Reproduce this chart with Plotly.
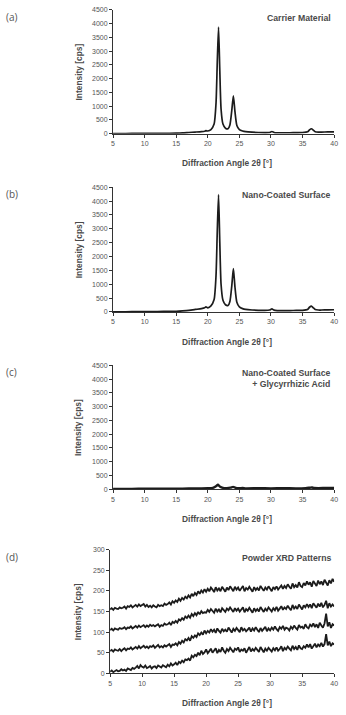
import plotly.graph_objects as go

# ---------------- data ----------------
# Panel (a) Carrier Material
a_x = [5, 7, 9, 11, 13, 15, 16, 17, 18, 19, 19.5, 19.7, 20, 20.5, 21.0, 21.3, 21.5, 21.7, 21.9, 22.1,
       22.4, 22.8, 23.2, 23.5, 23.8, 24.05, 24.3, 24.6, 25.0, 25.5, 26, 27, 28, 29, 29.8, 30.15, 30.5,
       31, 32, 33, 34, 35, 35.8, 36.1, 36.4, 36.7, 37.0, 37.5, 38, 39, 40]
a_y = [5, 8, 10, 12, 15, 20, 28, 45, 60, 75, 90, 110, 100, 150, 350, 1100, 2600, 3880, 2300, 900,
       350, 200, 180, 320, 850, 1380, 800, 300, 150, 100, 75, 55, 45, 40, 45, 80, 45,
       35, 35, 35, 40, 45, 70, 140, 180, 130, 70, 55, 60, 65, 70]

# Panel (b) Nano-Coated Surface
b_x = a_x
b_y = [5, 8, 10, 13, 18, 25, 40, 60, 90, 120, 150, 180, 150, 220, 450, 1300, 2900, 4230, 2500, 1000,
       420, 260, 230, 380, 950, 1560, 900, 350, 180, 120, 90, 70, 60, 55, 70, 110, 65,
       50, 50, 50, 55, 60, 90, 170, 210, 150, 90, 70, 70, 75, 80]

# Panel (c) Nano-Coated Surface + Glycyrrhizic Acid
c_x = [5, 7, 9, 11, 13, 15, 17, 19, 20, 20.8, 21.3, 21.6, 21.9, 22.4, 23, 23.6, 24.0, 24.4, 25, 25.5,
       26, 28, 30, 32, 34, 35.5, 36.2, 36.5, 36.8, 37.5, 38.5, 40]
c_y = [10, 12, 14, 15, 18, 20, 25, 30, 35, 50, 110, 160, 100, 50, 40, 55, 85, 50, 35, 45,
       30, 35, 30, 35, 30, 40, 55, 60, 45, 40, 45, 50]

# Panel (d) Powder XRD patterns, 0.25 deg steps from 5 to 40
d_start, d_step = 5.0, 0.25
d_curve1 = [4, 7, 3, 6, 8, 5, 6, 10, 7, 9, 6, 12, 10, 8, 13, 11, 14, 18, 12, 20,
            16, 14, 19, 13, 15, 18, 12, 16, 17, 13, 19, 16, 14, 20, 18, 15, 21, 17, 24, 19,
            22, 26, 20, 28, 25, 31, 27, 34, 32, 36, 31, 43, 39, 45, 42, 50, 44, 55, 47, 51,
            58, 49, 54, 60, 50, 56, 61, 49, 57, 52, 63, 55, 50, 59, 54, 62, 56, 51, 60, 57,
            63, 52, 58, 55, 61, 50, 57, 64, 53, 59, 55, 62, 57, 52, 64, 56, 51, 60, 55, 62,
            58, 53, 61, 56, 63, 55, 59, 66, 54, 62, 58, 65, 60, 56, 67, 59, 64, 57, 68, 61,
            59, 66, 62, 70, 63, 71, 60, 68, 72, 63, 70, 66, 74, 65, 71, 95, 68, 77, 66, 73,
            70]
d_curve2 = [54, 57, 53, 58, 56, 55, 59, 54, 58, 61, 56, 60, 59, 63, 58, 62, 64, 60, 66, 61,
            63, 67, 62, 65, 61, 66, 64, 68, 62, 65, 69, 63, 66, 63, 68, 65, 67, 71, 64, 70,
            69, 73, 68, 76, 72, 79, 75, 83, 80, 86, 79, 90, 86, 92, 88, 97, 93, 99, 94, 104,
            97, 103, 99, 107, 101, 106, 98, 109, 103, 99, 108, 102, 106, 101, 111, 104, 99, 108, 103, 110,
            105, 100, 112, 104, 108, 102, 106, 111, 101, 109, 104, 112, 106, 100, 110, 103, 108, 113, 102, 109,
            104, 111, 106, 114, 107, 103, 112, 108, 115, 106, 111, 109, 104, 113, 108, 116, 110, 106, 117, 111,
            113, 108, 119, 112, 109, 118, 114, 121, 112, 119, 110, 123, 116, 111, 121, 145, 114, 124, 110, 119,
            116]
d_curve3 = [105, 108, 104, 109, 107, 106, 110, 108, 109, 112, 107, 111, 110, 114, 109, 113, 115, 111, 116, 112,
            114, 117, 112, 116, 113, 118, 115, 117, 114, 116, 119, 113, 117, 115, 121, 118, 119, 123, 117, 125,
            122, 127, 123, 131, 128, 134, 130, 138, 134, 140, 135, 144, 139, 146, 141, 149, 143, 151, 146, 148,
            147, 154, 149, 156, 151, 147, 157, 150, 155, 148, 158, 152, 149, 157, 153, 160, 154, 149, 158, 152,
            157, 150, 155, 160, 148, 156, 152, 159, 153, 147, 158, 151, 156, 150, 161, 154, 149, 157, 152, 160,
            155, 150, 158, 153, 161, 152, 157, 163, 154, 160, 156, 164, 158, 153, 166, 157, 162, 156, 167, 159,
            155, 165, 160, 168, 161, 167, 158, 170, 164, 159, 169, 162, 171, 160, 166, 176, 158, 170, 162, 167,
            162]
d_curve4 = [155, 158, 154, 159, 157, 156, 160, 158, 159, 162, 157, 163, 161, 165, 160, 164, 166, 162, 167, 163,
            165, 168, 162, 166, 161, 164, 160, 165, 162, 160, 166, 163, 165, 163, 169, 166, 168, 172, 167, 175,
            171, 177, 173, 181, 176, 183, 179, 186, 182, 189, 184, 193, 187, 195, 190, 199, 193, 201, 196, 204,
            198, 205, 199, 208, 203, 197, 209, 201, 206, 199, 210, 203, 198, 208, 202, 211, 205, 199, 210, 203,
            208, 200, 206, 212, 199, 207, 203, 210, 204, 198, 209, 202, 207, 201, 212, 205, 200, 208, 203, 211,
            206, 199, 209, 204, 211, 203, 208, 213, 205, 212, 207, 216, 210, 205, 218, 209, 214, 208, 221, 212,
            209, 219, 213, 223, 215, 221, 210, 224, 218, 212, 225, 216, 223, 214, 227, 219, 213, 226, 218, 229,
            222]
d_x = [d_start + i * d_step for i in range(len(d_curve1))]

panel_titles = ["Carrier Material", "Nano-Coated Surface",
                "Nano-Coated Surface<br>+ Glycyrrhizic Acid", "Powder XRD Patterns"]
panel_letters = ["(a)", "(b)", "(c)", "(d)"]
x_ticks = [5, 10, 15, 20, 25, 30, 35, 40]
y_ticks_abc = [0, 500, 1000, 1500, 2000, 2500, 3000, 3500, 4000, 4500]
y_ticks_d = [0, 50, 100, 150, 200, 250, 300]
x_title = "Diffraction Angle 2θ [°]"
y_title = "Intensity [cps]"

# ---------------- layout ----------------
W, H = 346, 715
LINE = "#1c1c1c"
TXT = "#4a4a4a"
FONT = "Liberation Sans"

# pixel geometry of each panel: (left, right, top, bottom)
panels = [(113, 338, 6, 131), (113, 338, 185, 311), (113, 338, 365, 490), (110, 338, 551, 676)]

fig = go.Figure()
series = [(a_x, a_y, 1.7), (b_x, b_y, 1.7), (c_x, c_y, 2.4)]
for i, (xs, ys, w) in enumerate(series):
    fig.add_trace(go.Scatter(x=xs, y=ys, mode="lines", line=dict(color=LINE, width=w, shape="spline", smoothing=0.6),
                             xaxis=f"x{i+1}" if i else "x", yaxis=f"y{i+1}" if i else "y",
                             showlegend=False, hoverinfo="skip"))
for cur in [d_curve1, d_curve2, d_curve3, d_curve4]:
    fig.add_trace(go.Scatter(x=d_x, y=cur, mode="lines", line=dict(color=LINE, width=1.8),
                             xaxis="x4", yaxis="y4", showlegend=False, hoverinfo="skip"))

annotations = []
for i, (l, r, t, b) in enumerate(panels):
    xd = [l / W, r / W]
    yd = [1 - b / H, 1 - t / H]
    sfx = "" if i == 0 else str(i + 1)
    yt = y_ticks_d if i == 3 else y_ticks_abc
    axis_common = dict(showline=True, linecolor="#333333", linewidth=1, ticks="outside", ticklen=3,
                       tickcolor="#333333", tickwidth=1, showgrid=False, zeroline=False,
                       tickfont=dict(family=FONT, size=7, color="#555555"))
    fig.layout[f"xaxis{sfx}"] = dict(domain=xd, range=[5, 40], tickvals=x_ticks, anchor=f"y{sfx}",
                                     **axis_common)
    fig.layout[f"yaxis{sfx}"] = dict(domain=yd, range=[0, yt[-1]], tickvals=yt, anchor=f"x{sfx}",
                                     **axis_common)
    # panel title (top right)
    annotations.append(dict(text="<b>" + panel_titles[i] + "</b>", x=(r - 1) / W, y=1 - (t + 1) / H,
                            xref="paper", yref="paper", xanchor="right", yanchor="top", align="right",
                            showarrow=False, font=dict(family=FONT, size=8.7, color=TXT)))
    # x axis title
    annotations.append(dict(text="<b>" + x_title + "</b>", x=229 / W, y=1 - (b + 30) / H,
                            xref="paper", yref="paper", xanchor="center", yanchor="middle",
                            showarrow=False, font=dict(family=FONT, size=8.4, color=TXT)))
    # y axis title
    annotations.append(dict(text="<b>" + y_title + "</b>", x=78 / W, y=1 - ((t + b) / 2) / H,
                            xref="paper", yref="paper", xanchor="center", yanchor="middle", textangle=-90,
                            showarrow=False, font=dict(family=FONT, size=8.4, color=TXT)))
    # panel letter
    annotations.append(dict(text=panel_letters[i], x=2 / W, y=1 - (t + 7) / H,
                            xref="paper", yref="paper", xanchor="left", yanchor="middle",
                            showarrow=False, font=dict(family="Open Sans", size=10, color="#555555")))

fig.update_layout(width=W, height=H, margin=dict(l=0, r=0, t=0, b=0),
                  paper_bgcolor="white", plot_bgcolor="white", annotations=annotations)

fig.write_html("out.html", config={"displayModeBar": False})
